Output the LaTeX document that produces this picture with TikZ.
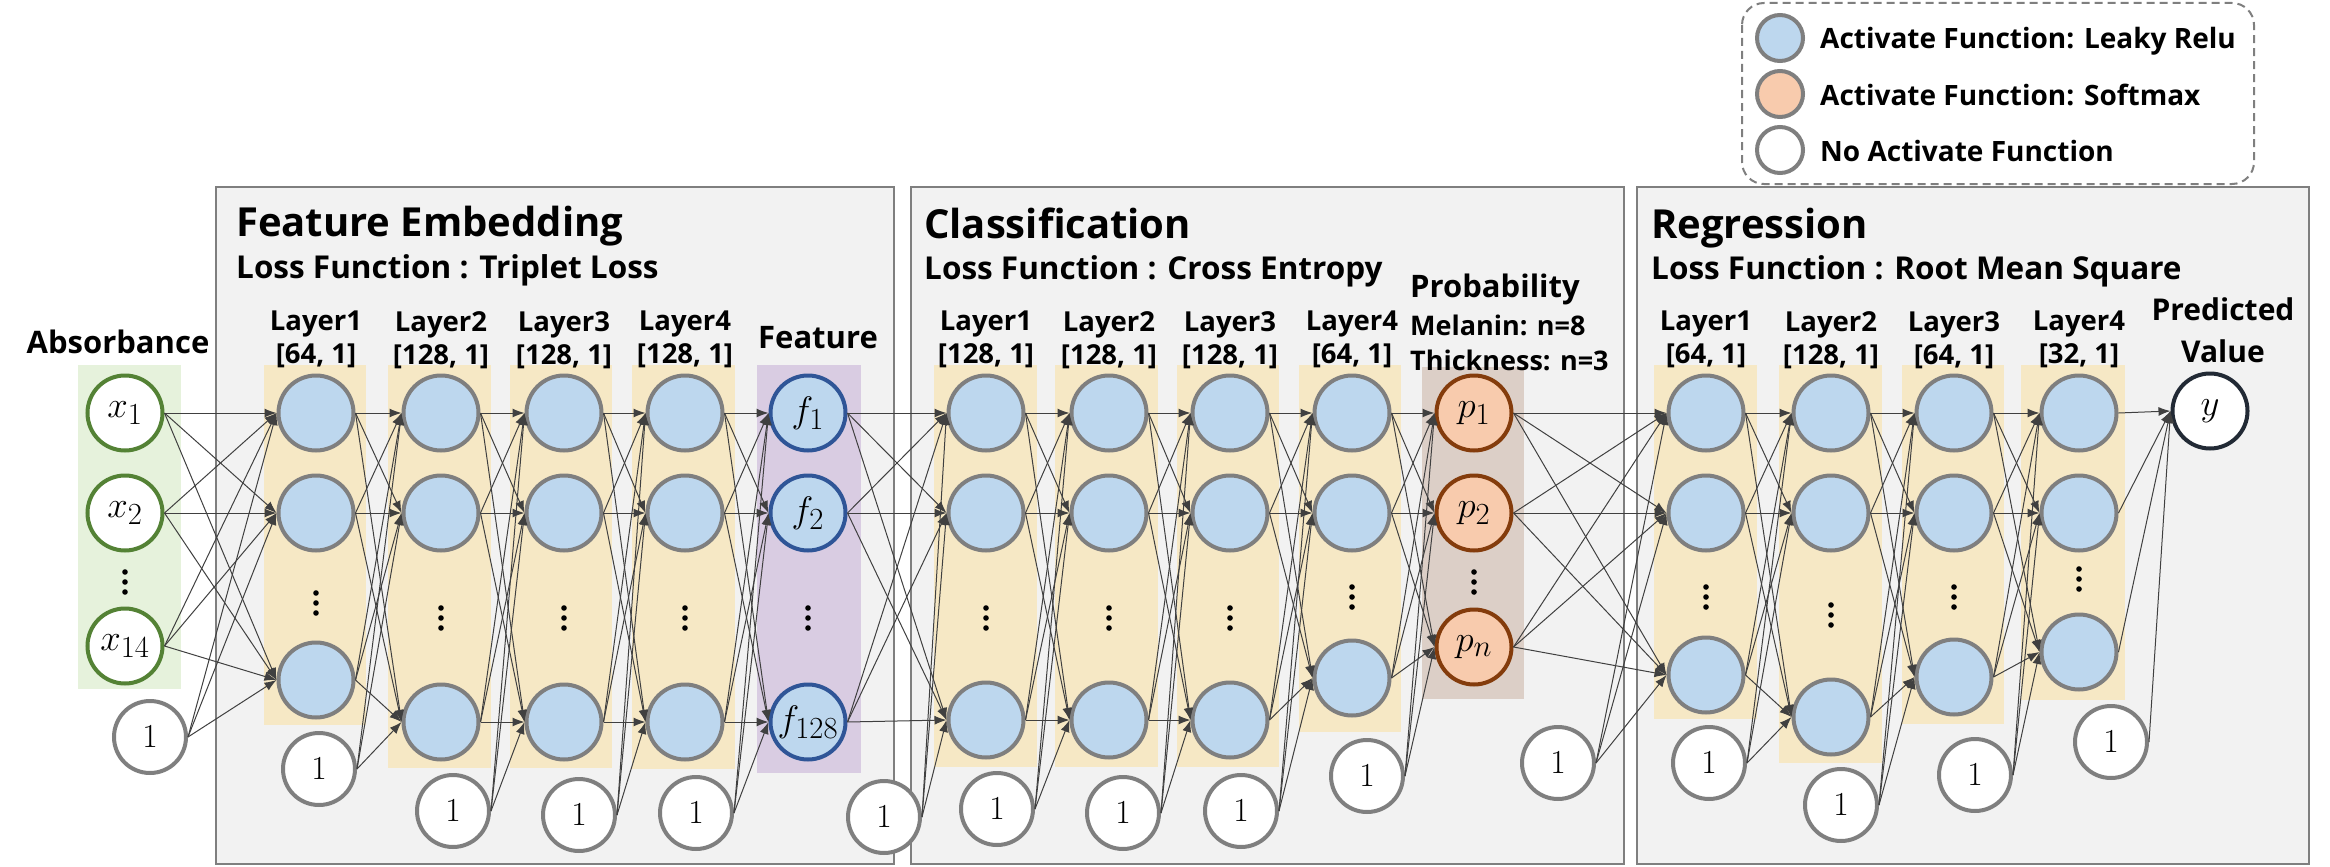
\RequirePackage{fix-cm}
\documentclass[tikz,border=0pt]{standalone}
\usepackage{graphicx}
\usepackage{fontspec}
\setmainfont{Open Sans}
\usetikzlibrary{arrows.meta,positioning}

\definecolor{nodeblue}{HTML}{BDD7EE}
\definecolor{nodegray}{HTML}{7F7F7F}
\definecolor{nodegreen}{HTML}{548235}
\definecolor{featblue}{HTML}{2F5597}
\definecolor{probfill}{HTML}{F8CBAD}
\definecolor{probline}{HTML}{843C0C}
\definecolor{outline}{HTML}{222A35}
\definecolor{boxfill}{HTML}{F2F2F2}
\definecolor{colyellow}{HTML}{F6E8C5}
\definecolor{colgreen}{HTML}{E6F2DC}
\definecolor{colpurple}{HTML}{D9CCE2}
\definecolor{colbrown}{HTML}{DCCFC7}
\definecolor{linkgray}{HTML}{404040}

\newcommand\vdotsat[2]{\foreach \k in {-10,0,10}{\fill (#1,#2+\k) circle[radius=2.8pt];}}
\newcommand\nm[1]{\scalebox{1.48}{$#1$}}
\newcommand\bm[1]{\scalebox{1.35}{$#1$}}

\tikzset{
  module/.style={draw=nodegray, fill=boxfill, line width=2pt},
  neuron/.style={circle, draw=nodegray, fill=nodeblue, line width=4pt,
    minimum size=75pt, inner sep=0pt, font=\fontsize{24.88}{28}\selectfont},
  input/.style={neuron, draw=nodegreen, fill=white},
  feat/.style={neuron, draw=featblue},
  prob/.style={neuron, draw=probline, fill=probfill},
  outnode/.style={neuron, draw=outline, fill=white},
  bias/.style={neuron, fill=white, minimum size=72pt},
  legendnode/.style={neuron, minimum size=46pt},
  link/.style={draw=linkgray, line width=1pt, -{Latex[length=12pt,width=9pt]}},
  title/.style={anchor=base west, inner sep=0pt, font=\fontsize{40}{44}\selectfont\bfseries},
  subtitle/.style={anchor=base west, inner sep=0pt, font=\fontsize{31.5}{34}\selectfont\bfseries},
  layerlabel/.style={anchor=north, inner sep=0pt, align=center, font=\fontsize{27.5}{33}\selectfont\bfseries},
  collabel/.style={anchor=base, inner sep=0pt, font=\fontsize{31}{34}\selectfont\bfseries},
  legendtext/.style={anchor=base west, inner sep=0pt, font=\fontsize{28}{32}\selectfont\bfseries}
}

\begin{document}
\begin{tikzpicture}[x=1pt,y=-1pt]
  \useasboundingbox (0,0) rectangle (2330,867);

  \draw[nodegray, line width=2pt, dash pattern=on 8pt off 5pt, rounded corners=22pt]
    (1742,3) rectangle (2254,184);
  \node[legendnode] (lg-1) at (1780,38) {};
  \node[legendnode, fill=probfill] (lg-2) at (1780,94) {};
  \node[legendnode, fill=white] (lg-3) at (1780,150) {};
  \node[legendtext] (lg-1-t) at (1820,49) {Activate Function: Leaky Relu};
  \node[legendtext] (lg-2-t) at (1820,105) {Activate Function: Softmax};
  \node[legendtext] (lg-3-t) at (1820,161) {No Activate Function};

  \draw[module] (216,187) rectangle (894,864);
  \draw[module] (911,187) rectangle (1624,864);
  \draw[module] (1637,187) rectangle (2309,864);
  \node[title] (fe-t) at (236,236) {Feature Embedding};
  \node[subtitle] (fe-s) at (236,278) {Loss Function : Triplet Loss};
  \node[title] (cl-t) at (924,238) {Classification};
  \node[subtitle] (cl-s) at (924,279) {Loss Function : Cross Entropy};
  \node[title] (rg-t) at (1651,238) {Regression};
  \node[subtitle] (rg-s) at (1651,279) {Loss Function : Root Mean Square};

  \fill[colgreen] (78,365) rectangle (181,689);
  \node[input] (in-1) at (125,413) {\nm{x_{1}}};
  \node[input] (in-2) at (125,513) {\nm{x_{2}}};
  \node[input] (in-3) at (125,646) {\nm{x_{14}}};
  \vdotsat{125}{582}
  \node[collabel] (in-lab) at (118,353) {Absorbance};

  \foreach \n/\x/\d/\l/\bl/\br/\bb/\hd/\sz in {
    fe1/316/603/680/264/366/725/Layer1/{[64, 1]},
    fe2/441/618/722/388/491/768/Layer2/{[128, 1]},
    fe3/564/618/722/510/612/768/Layer3/{[128, 1]},
    fe4/685/618/722/632/735/769/Layer4/{[128, 1]},
    cl1/986/618/720/934/1037/767/Layer1/{[128, 1]},
    cl2/1109/618/720/1055/1158/767/Layer2/{[128, 1]},
    cl3/1230/618/720/1177/1279/767/Layer3/{[128, 1]},
    cl4/1352/597/678/1299/1401/732/Layer4/{[64, 1]},
    rg1/1706/597/675/1654/1757/719/Layer1/{[64, 1]},
    rg2/1831/615/717/1779/1882/763/Layer2/{[128, 1]},
    rg3/1954/597/677/1902/2004/724/Layer3/{[64, 1]},
    rg4/2079/579/652/2021/2125/700/Layer4/{[32, 1]}}{
    \fill[colyellow] (\bl,365) rectangle (\br,\bb);
    \node[neuron] (\n-1) at (\x,413) {};
    \node[neuron] (\n-2) at (\x,513) {};
    \node[neuron] (\n-3) at (\x,\l) {};
    \vdotsat{\x}{\d}
    \node[layerlabel] (\n-lab) at (\x,311) {\hd\\{\sz}};
  }

  \fill[colpurple] (757,365) rectangle (861,773);
  \node[feat] (feat-1) at (808,413) {\nm{f_{1}}};
  \node[feat] (feat-2) at (808,513) {\nm{f_{2}}};
  \node[feat] (feat-3) at (808,722) {\nm{f_{128}}};
  \vdotsat{808}{618}
  \node[collabel] (feat-lab) at (818,348) {Feature};

  \fill[colbrown] (1422,367) rectangle (1524,699);
  \node[prob] (prob-1) at (1474,413) {\nm{p_{1}}};
  \node[prob] (prob-2) at (1474,513) {\nm{p_{2}}};
  \node[prob] (prob-3) at (1474,647) {\nm{p_{n}}};
  \vdotsat{1474}{582}
  \node[collabel, anchor=base west] (prob-lab) at (1410,297) {Probability};
  \node[legendtext, font=\fontsize{27}{30}\selectfont\bfseries] (prob-m) at (1410,335) {Melanin: n=8};
  \node[legendtext, font=\fontsize{27}{30}\selectfont\bfseries] (prob-k) at (1410,370) {Thickness: n=3};

  \node[outnode] (out) at (2210,411) {\nm{y}};
  \node[layerlabel, font=\fontsize{30}{42}\selectfont\bfseries] (out-lab) at (2223,298) {Predicted\\Value};

  \foreach \n/\x/\y in {fe1/150/737, fe2/319/769, fe3/453/811, fe4/579/815, feat/696/813,
    cl1/884/817, cl2/997/809, cl3/1123/813, cl4/1241/811, prob/1367/776,
    rg1/1558/763, rg2/1709/763, rg3/1841/805, rg4/1975/775, out/2111/742}
    \node[bias] (b-\n) at (\x,\y) {\bm{1}};

  \foreach \s/\t in {in/fe1, fe1/fe2, fe2/fe3, fe3/fe4, fe4/feat, feat/cl1, cl1/cl2,
    cl2/cl3, cl3/cl4, cl4/prob, prob/rg1, rg1/rg2, rg2/rg3, rg3/rg4}
    \foreach \j in {1,2,3}{
      \foreach \i in {1,2,3} \draw[link] (\s-\i.east) -- (\t-\j.west);
      \draw[link] (b-\t.east) -- (\t-\j.west);
    }
  \foreach \i in {1,2,3} \draw[link] (rg4-\i.east) -- (out.west);
  \draw[link] (b-out.east) -- (out.west);
\end{tikzpicture}
\end{document}
